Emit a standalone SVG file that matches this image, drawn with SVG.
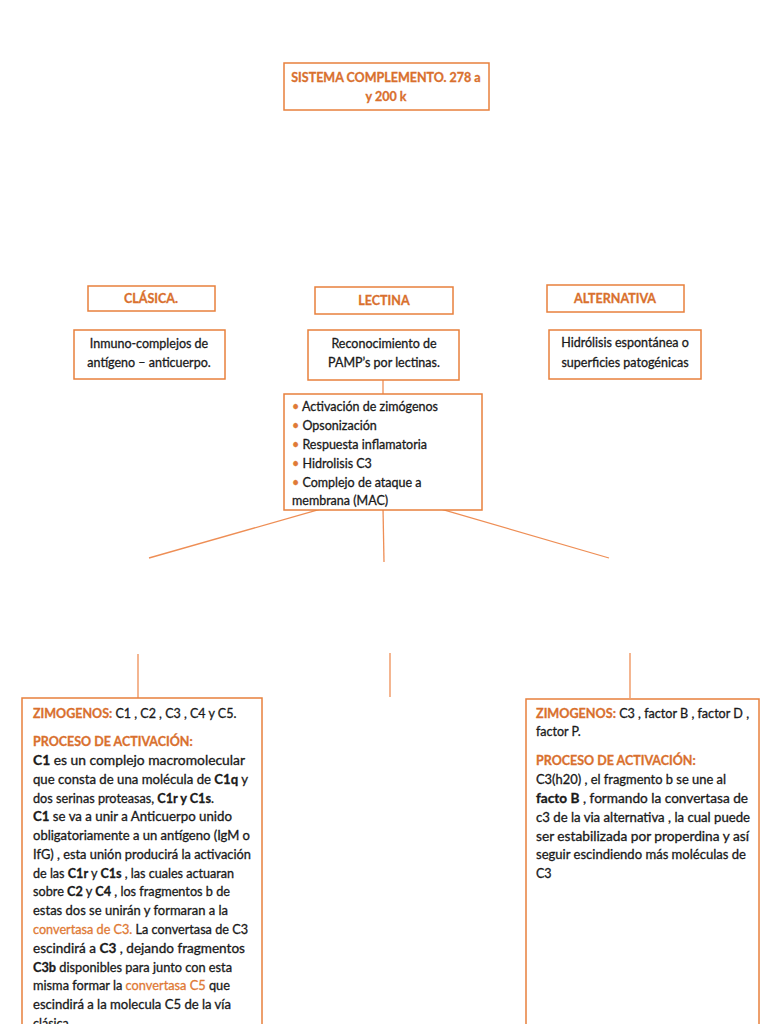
<svg xmlns="http://www.w3.org/2000/svg" width="768" height="1024" viewBox="0 0 768 1024">
<style>
.box{fill:#fff;stroke:#E8803C;stroke-width:1.5}
.ln{stroke:#EE8E55;stroke-width:1.3;fill:none}
text{font-family:Lato,"Open Sans","Liberation Sans",sans-serif;font-size:12.5px;fill:#1a1a1a;stroke:#1a1a1a;stroke-width:0.3}
.h{fill:#D9702E;stroke:#D9702E;font-weight:bold}
.c{text-anchor:middle}
.b{font-weight:bold}
.o{fill:#E07A36;stroke:#E07A36}
</style>
<rect width="768" height="1024" fill="#fff"/>
<g id="connectors">
<line class="ln" x1="383" y1="380" x2="383" y2="394"/>
<line class="ln" x1="335" y1="505" x2="149" y2="558"/>
<line class="ln" x1="383" y1="508" x2="384" y2="562"/>
<line class="ln" x1="420" y1="503" x2="609" y2="558"/>
<line class="ln" x1="138" y1="654" x2="138" y2="698"/>
<line class="ln" x1="390" y1="653" x2="390" y2="697"/>
<line class="ln" x1="630" y1="653" x2="630" y2="698"/>
</g>
<g id="root">
<rect class="box" x="284" y="63" width="205" height="47"/>
<text class="h c" x="386" y="82">SISTEMA COMPLEMENTO. 278 a</text>
<text class="h c" x="386" y="101">y 200 k</text>
</g>
<g id="clasica">
<rect class="box" x="88" y="286" width="127" height="25"/>
<text class="h c" x="151" y="303">CLÁSICA.</text>
</g>
<g id="lectina">
<rect class="box" x="315" y="287" width="138" height="27"/>
<text class="h c" x="384" y="305">LECTINA</text>
</g>
<g id="alternativa">
<rect class="box" x="547" y="285" width="137" height="27"/>
<text class="h c" x="615" y="303">ALTERNATIVA</text>
</g>
<g id="clasica-desc">
<rect class="box" x="74" y="330" width="151" height="49"/>
<text class="c" x="149" y="348">Inmuno-complejos de</text>
<text class="c" x="149" y="367">antígeno – anticuerpo.</text>
</g>
<g id="lectina-desc">
<rect class="box" x="308" y="330" width="151" height="50"/>
<text class="c" x="384" y="348">Reconocimiento de</text>
<text class="c" x="384" y="367">PAMP’s por lectinas.</text>
</g>
<g id="alternativa-desc">
<rect class="box" x="549" y="330" width="152" height="49"/>
<text class="c" x="625" y="347">Hidrólisis espontánea o</text>
<text class="c" x="625" y="367">superficies patogénicas</text>
</g>
<g id="funciones">
<rect class="box" x="284" y="394" width="198" height="116"/>
<text x="292" y="411"><tspan class="o">•</tspan> Activación de zimógenos</text>
<text x="292" y="430"><tspan class="o">•</tspan> Opsonización</text>
<text x="292" y="449"><tspan class="o">•</tspan> Respuesta inflamatoria</text>
<text x="292" y="468"><tspan class="o">•</tspan> Hidrolisis C3</text>
<text x="292" y="487"><tspan class="o">•</tspan> Complejo de ataque a</text>
<text x="292" y="505">membrana (MAC)</text>
</g>
<g id="via-clasica">
<rect class="box" x="22" y="698" width="240" height="340"/>
<text x="33" y="718"><tspan class="h">ZIMOGENOS:</tspan> C1 , C2 , C3 , C4 y C5.</text>
<text class="h" x="33" y="746">PROCESO DE ACTIVACIÓN:</text>
<text x="33" y="765" textLength="212" lengthAdjust="spacingAndGlyphs"><tspan class="b">C1</tspan> es un complejo macromolecular</text>
<text x="33" y="784" textLength="215" lengthAdjust="spacingAndGlyphs">que consta de una molécula de <tspan class="b">C1q</tspan> y</text>
<text x="33" y="803" textLength="181" lengthAdjust="spacingAndGlyphs">dos serinas proteasas, <tspan class="b">C1r y C1s</tspan>.</text>
<text x="33" y="821" textLength="199" lengthAdjust="spacingAndGlyphs"><tspan class="b">C1</tspan> se va a unir a Anticuerpo unido</text>
<text x="33" y="840" textLength="217" lengthAdjust="spacingAndGlyphs">obligatoriamente a un antígeno (IgM o</text>
<text x="33" y="859" textLength="218" lengthAdjust="spacingAndGlyphs">IfG) , esta unión producirá la activación</text>
<text x="33" y="878" textLength="201" lengthAdjust="spacingAndGlyphs">de las <tspan class="b">C1r</tspan> y <tspan class="b">C1s</tspan> , las cuales actuaran</text>
<text x="33" y="896" textLength="197" lengthAdjust="spacingAndGlyphs">sobre <tspan class="b">C2</tspan> y <tspan class="b">C4</tspan> , los fragmentos b de</text>
<text x="33" y="915" textLength="195" lengthAdjust="spacingAndGlyphs">estas dos se unirán y formaran a la</text>
<text x="33" y="934" textLength="215" lengthAdjust="spacingAndGlyphs"><tspan class="o">convertasa de C3.</tspan> La convertasa de C3</text>
<text x="33" y="953" textLength="212" lengthAdjust="spacingAndGlyphs">escindirá a <tspan class="b">C3</tspan> , dejando  fragmentos</text>
<text x="33" y="972" textLength="199" lengthAdjust="spacingAndGlyphs"><tspan class="b">C3b</tspan> disponibles para junto con esta</text>
<text x="33" y="990" textLength="197" lengthAdjust="spacingAndGlyphs">misma formar la <tspan class="o">convertasa C5</tspan> que</text>
<text x="33" y="1009" textLength="198" lengthAdjust="spacingAndGlyphs">escindirá a la molecula C5 de la vía</text>
<text x="33" y="1028">clásica</text>
</g>
<g id="via-alternativa">
<rect class="box" x="526" y="699" width="233" height="340"/>
<text x="536" y="718" textLength="213" lengthAdjust="spacingAndGlyphs"><tspan class="h">ZIMOGENOS:</tspan> C3 , factor B , factor D ,</text>
<text x="536" y="736">factor P.</text>
<text class="h" x="536" y="765">PROCESO DE ACTIVACIÓN:</text>
<text x="536" y="784" textLength="190" lengthAdjust="spacingAndGlyphs">C3(h20) , el fragmento b se une al</text>
<text x="536" y="803" textLength="212" lengthAdjust="spacingAndGlyphs"><tspan class="b">facto B</tspan>  , formando la convertasa de</text>
<text x="536" y="822" textLength="214" lengthAdjust="spacingAndGlyphs">c3 de la via alternativa , la cual puede</text>
<text x="536" y="841" textLength="213" lengthAdjust="spacingAndGlyphs">ser estabilizada por properdina   y así</text>
<text x="536" y="859" textLength="210" lengthAdjust="spacingAndGlyphs">seguir escindiendo más moléculas de</text>
<text x="536" y="878">C3</text>
</g>
</svg>
